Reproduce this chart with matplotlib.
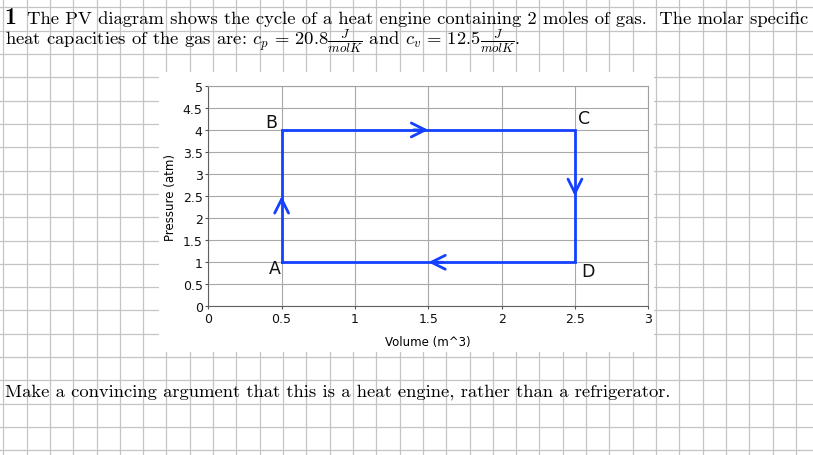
import matplotlib
matplotlib.use("Agg")
import matplotlib.pyplot as plt
import numpy as np
from matplotlib.patches import Rectangle

plt.rcParams['mathtext.fontset'] = 'cm'

# cycle A -> B -> C -> D -> A
volume = [0.5, 0.5, 2.5, 2.5, 0.5]
pressure = [1, 4, 4, 1, 1]
point_names = ['A', 'B', 'C', 'D']
x_ticks = [0, 0.5, 1, 1.5, 2, 2.5, 3]
y_ticks = [0, 0.5, 1, 1.5, 2, 2.5, 3, 3.5, 4, 4.5, 5]

line1 = 'The PV diagram shows the cycle of a heat engine containing 2 moles of gas.  The molar specific'
line2 = (r'heat capacities of the gas are: $c_p\,=\,20.8\frac{J}{molK}$ and '
         r'$c_v\,=\,12.5\frac{J}{molK}$.')
question = 'Make a convincing argument that this is a heat engine, rather than a refrigerator.'

blue = '#1440ff'

fig = plt.figure(figsize=(8.13, 4.56), dpi=100)

# graph paper background
bg = fig.add_axes([0, 0, 1, 1])
bg.set_xlim(0, 813)
bg.set_ylim(456, 0)
bg.axis('off')
for x in np.arange(3.3, 813, 23.31):
    bg.axvline(x, color='#c4c4c4', lw=0.9, zorder=1)
for y in np.arange(8.4, 456, 23.31):
    bg.axhline(y, color='#c4c4c4', lw=0.9, zorder=1)
bg.add_patch(Rectangle((159, 73.3), 495, 280, facecolor='white', edgecolor='none', zorder=2))

bg.text(4, 24, '1', family='cmb10', fontsize=17, va='baseline', zorder=3)
bg.text(27, 24, line1, family='cmr10', fontsize=13.4, va='baseline', zorder=3)
bg.text(5, 45, line2, family='cmr10', fontsize=13.4, va='baseline', zorder=3)
bg.text(5, 397, question, family='cmr10', fontsize=13.4, va='baseline', zorder=3)

# the PV chart
ax = fig.add_axes([0.2562, 0.3259, 0.5412, 0.4837])
ax.set_facecolor('white')
ax.set_xlim(0, 3)
ax.set_ylim(0, 5)
ax.set_xticks(x_ticks)
ax.set_yticks(y_ticks)
ax.set_xticklabels(['{:g}'.format(v) for v in x_ticks])
ax.set_yticklabels(['{:g}'.format(v) for v in y_ticks])
ax.tick_params(labelsize=9, length=2.5, pad=1.5, color='#555555', labelcolor='#111111')
ax.grid(True, color='#a8a8a8', lw=0.8)
ax.set_axisbelow(True)
for s in ax.spines.values():
    s.set_color('#a0a0a0')
    s.set_linewidth(0.8)
ax.spines['left'].set_color('#606060')
ax.spines['bottom'].set_color('#606060')

ax.plot(volume, pressure, color=blue, lw=2, solid_joinstyle='miter', zorder=3)

# direction arrows at the middle of each leg
for i in range(4):
    x0, y0 = volume[i], pressure[i]
    x1, y1 = volume[i + 1], pressure[i + 1]
    mx, my = (x0 + x1) / 2, (y0 + y1) / 2
    ax.annotate('', xy=(mx, my), xytext=(mx - (x1 - x0) * 0.05, my - (y1 - y0) * 0.05),
                arrowprops=dict(arrowstyle='->,head_length=1.0,head_width=0.5',
                                color=blue, lw=2, mutation_scale=10,
                                shrinkA=0, shrinkB=0), zorder=4)

label_pos = [(0.455, 0.86), (0.43, 4.19), (2.56, 4.27), (2.59, 0.81)]
for name, (lx, ly) in zip(point_names, label_pos):
    ax.text(lx, ly, name, fontsize=12.5, ha='center', va='center', color='#111111')

ax.set_ylabel('Pressure (atm)', fontsize=8.5, va='center')
ax.yaxis.set_label_coords(-0.087, 0.5)
ax.set_xlabel('Volume (m^3)', fontsize=8.5, va='center')
ax.xaxis.set_label_coords(0.5, -0.16)

fig.savefig('out.png', dpi=100)
